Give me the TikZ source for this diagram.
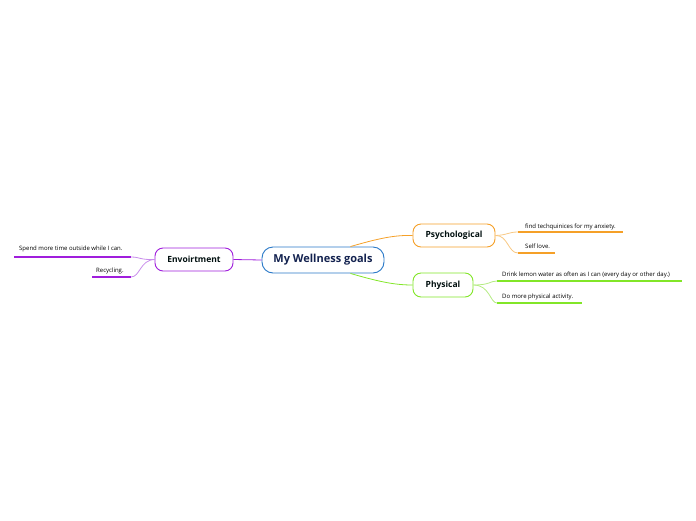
\documentclass[tikz,border=0pt]{standalone}
\usepackage{fontspec}
\setmainfont{Open Sans}
\begin{document}
\begin{tikzpicture}[x=1pt,y=-1pt,
 main/.style={draw=#1,line width=0.9pt,rounded corners=8pt,fill=white,font=\bfseries\fontsize{8.5}{10}\selectfont,text=black!70!teal!40!black,inner sep=0pt},
 leaf/.style={font=\fontsize{6}{7}\selectfont,anchor=base west,inner sep=0pt},
 ul/.style={draw=#1,line width=1.2pt},
 con/.style={draw=#1,line width=0.8pt}]
\useasboundingbox (0,0) rectangle (696,520);
\definecolor{cblue}{RGB}{40,120,200}
\definecolor{corange}{RGB}{245,160,40}
\definecolor{cgreen}{RGB}{130,230,40}
\definecolor{cpurple}{RGB}{160,30,220}
\definecolor{cplight}{RGB}{200,140,235}
\definecolor{cglight}{RGB}{180,235,130}
\definecolor{colight}{RGB}{248,200,130}
\node[main=cblue,minimum width=122pt,minimum height=26pt,rounded corners=11pt,font=\bfseries\fontsize{11}{13}\selectfont,text={rgb,255:red,20;green,35;blue,80}] (c) at (323,260) {My Wellness goals};
\node[main=corange,minimum width=82pt,minimum height=23pt] (p) at (454,235.5) {Psychological};
\node[main=cgreen,minimum width=60pt,minimum height=24pt] (ph) at (443,285) {Physical};
\node[main=cpurple,minimum width=78pt,minimum height=23pt] (e) at (194,259.5) {Envoirtment};
% leaves
\node[leaf] (l1) at (525,228) {find techquinices for my anxiety.};
\node[leaf] (l2) at (525,248) {Self love.};
\node[leaf] (l3) at (502,276) {Drink lemon water as often as I can (every day or other day.)};
\node[leaf] (l4) at (502,298) {Do more physical activity.};
\node[leaf] (l5) at (19,250) {Spend more time outside while I can.};
\node[leaf] (l6) at (96,272) {Recycling.};
\coordinate (u1a) at (518,232); \coordinate (u1b) at (623,232);
\coordinate (u2a) at (518,253); \coordinate (u2b) at (555,253);
\coordinate (u3a) at (497,281); \coordinate (u3b) at (682,281);
\coordinate (u4a) at (497,303); \coordinate (u4b) at (582,303);
\coordinate (u5a) at (131,257); \coordinate (u5b) at (14,257);
\coordinate (u6a) at (131,277); \coordinate (u6b) at (92,277);
\draw[ul=corange] (u1a)--(u1b); \draw[ul=corange] (u2a)--(u2b);
\draw[ul=cgreen] (u3a)--(u3b); \draw[ul=cgreen] (u4a)--(u4b);
\draw[ul=cpurple] (u5a)--(u5b); \draw[ul=cpurple] (u6a)--(u6b);
% connectors
\draw[con=corange] (c.north east)++(-34,0) coordinate (cp) (cp) .. controls (380,238) and (395,235) .. (p.west);
\draw[con=cgreen] (c.south east)++(-34,0) coordinate (cg) (cg) .. controls (380,282) and (395,285) .. (ph.west);
\draw[con=cpurple] (e.east)--(c.west);
\draw[con=colight] (p.east) .. controls (508,235) and (508,232) .. (u1a);
\draw[con=colight] (p.east) .. controls (508,235) and (508,253) .. (u2a);
\draw[con=cglight] (ph.east) .. controls (490,285) and (490,281) .. (u3a);
\draw[con=cglight] (ph.east) .. controls (490,285) and (490,303) .. (u4a);
\draw[con=cplight] (e.west) .. controls (140,260) and (140,257) .. (u5a);
\draw[con=cplight] (e.west) .. controls (140,260) and (140,277) .. (u6a);
\end{tikzpicture}
\end{document}
